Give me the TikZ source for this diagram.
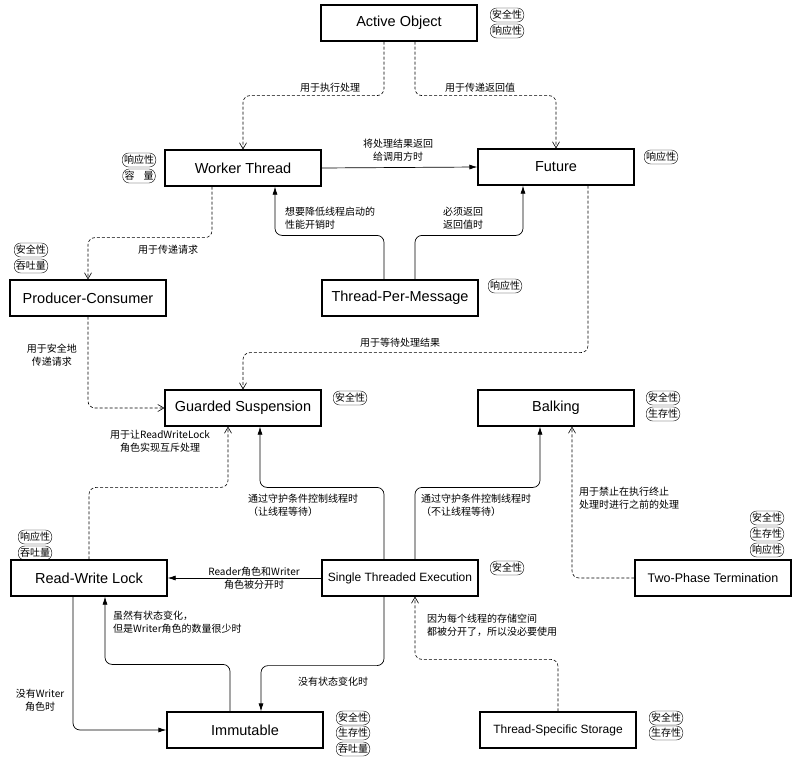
\documentclass[tikz,border=0pt]{standalone}
\usepackage{fontspec}
\setmainfont{Liberation Sans}
\newfontfamily\cjk{Noto Sans CJK SC}
\usetikzlibrary{arrows.meta}
\begin{document}
\begin{tikzpicture}[
    x = 1pt, y = -1pt,
    pattern/.style = {draw, line width = 1.2pt, minimum width = 156pt, minimum height = 36pt,
                      inner sep = 1pt, font = \fontsize{14.5}{16}\selectfont},
    tag/.style     = {draw, rounded corners = 6.5pt, inner sep = 1.8pt, minimum height = 14pt,
                      font = \cjk\fontsize{10}{11}\selectfont},
    lbl/.style     = {align = left, inner sep = 1pt, font = \cjk\fontsize{10}{13}\selectfont},
    uses/.style    = {draw, line width = 0.7pt, rounded corners = 7pt, -{Latex[length = 8pt, width = 5pt]}},
    refs/.style    = {draw, line width = 0.6pt, densely dashed, rounded corners = 7pt,
                      -{Straight Barb[length = 6pt, width = 7pt]}}
  ]
  \useasboundingbox (0,0) rectangle (800,773);
  % patterns
  \node[pattern] (ao)  at (399, 23)  {Active Object};
  \node[pattern] (wt)  at (243, 168) {Worker Thread};
  \node[pattern] (fu)  at (556, 167) {Future};
  \node[pattern] (pc)  at (88, 298)  {Producer-Consumer};
  \node[pattern] (tpm) at (400, 298) {Thread-Per-Message};
  \node[pattern] (gs)  at (243, 408) {Guarded Suspension};
  \node[pattern] (bk)  at (556, 408) {Balking};
  \node[pattern] (rwl) at (89, 578)  {Read-Write Lock};
  \node[pattern, font = \fontsize{12}{13}\selectfont] (ste) at (400, 578) {Single Threaded Execution};
  \node[pattern, font = \fontsize{12.5}{13}\selectfont] (tpt) at (713, 578) {Two-Phase Termination};
  \node[pattern] (im)  at (245, 730) {Immutable};
  \node[pattern, font = \fontsize{12}{13}\selectfont] (tss) at (558, 730) {Thread-Specific Storage};
  % properties
  \node[tag] (ao1)  at (507, 15)  {安全性};
  \node[tag] (ao2)  at (507, 31)  {响应性};
  \node[tag] (wt1)  at (139, 160) {响应性};
  \node[tag] (wt2)  at (139, 176) {容\hspace{9pt}量};
  \node[tag] (fu1)  at (661, 157) {响应性};
  \node[tag] (pc1)  at (31, 250)  {安全性};
  \node[tag] (pc2)  at (31, 266)  {吞吐量};
  \node[tag] (tpm1) at (505, 286) {响应性};
  \node[tag] (gs1)  at (350, 398) {安全性};
  \node[tag] (bk1)  at (663, 398) {安全性};
  \node[tag] (bk2)  at (663, 414) {生存性};
  \node[tag] (rwl1) at (35, 537)  {响应性};
  \node[tag] (rwl2) at (35, 553)  {吞吐量};
  \node[tag] (ste1) at (507, 568) {安全性};
  \node[tag] (tpt1) at (767, 518) {安全性};
  \node[tag] (tpt2) at (767, 534) {生存性};
  \node[tag] (tpt3) at (767, 550) {响应性};
  \node[tag] (im1)  at (353, 718) {安全性};
  \node[tag] (im2)  at (353, 733) {生存性};
  \node[tag] (im3)  at (353, 749) {吞吐量};
  \node[tag] (tss1) at (666, 718) {安全性};
  \node[tag] (tss2) at (666, 733) {生存性};
  % solid: one pattern makes use of another
  \draw[uses] (wt.east) -- (fu.west);
  \draw[uses] ([xshift = -16]tpm.north) -- ++(0, -44) -| ([xshift = 32]wt.south);
  \draw[uses] ([xshift = 15]tpm.north) -- ++(0, -44) -| ([xshift = -33]fu.south);
  \draw[uses] ([xshift = -16]ste.north) -- ++(0, -72) -| ([xshift = 17]gs.south);
  \draw[uses] ([xshift = 15]ste.north) -- ++(0, -72) -| ([xshift = -16]bk.south);
  \draw[uses] (ste.west) -- (rwl.east);
  \draw[uses] ([xshift = -16]ste.south) -- ++(0, 69) -| ([xshift = 16]im.north);
  \draw[uses] ([xshift = -15]im.north) -- ++(0, -47) -| ([xshift = 16]rwl.south);
  \draw[uses] ([xshift = -16]rwl.south) |- (im.west);
  % dashed: related patterns
  \draw[refs] ([xshift = -15]ao.south) -- ++(0, 54) -| (wt.north);
  \draw[refs] ([xshift = 16]ao.south) -- ++(0, 54) -| (fu.north);
  \draw[refs] ([xshift = -31]wt.south) -- ++(0, 51) -| (pc.north);
  \draw[refs] ([xshift = 32]fu.south) -- ++(0, 167) -| (gs.north);
  \draw[refs] (pc.south) |- (gs.west);
  \draw[refs] (rwl.north) -- ++(0, -72) -| ([xshift = -15]gs.south);
  \draw[refs] (tpt.west) -| ([xshift = 16]bk.south);
  \draw[refs] (tss.north) -- ++(0, -52) -| ([xshift = 15]ste.south);
  % labels
  \node[lbl] (l1)  at (330, 88)  {用于执行处理};
  \node[lbl] (l2)  at (480, 88)  {用于传递返回值};
  \node[lbl, align = center] (l3) at (398, 150) {将处理结果返回\\给调用方时};
  \node[lbl, anchor = west] (l4)  at (284, 218) {想要降低线程启动的\\性能开销时};
  \node[lbl, anchor = west] (l5)  at (442, 218) {必须返回\\返回值时};
  \node[lbl] (l6)  at (168, 250) {用于传递请求};
  \node[lbl] (l7)  at (400, 343) {用于等待处理结果};
  \node[lbl, align = center] (l8) at (52, 355) {用于安全地\\传递请求};
  \node[lbl, align = center] (l9) at (160, 441) {用于让ReadWriteLock\\角色实现互斥处理};
  \node[lbl, anchor = west] (l10) at (247, 505) {通过守护条件控制线程时\\（让线程等待）};
  \node[lbl, anchor = west] (l11) at (420, 505) {通过守护条件控制线程时\\（不让线程等待）};
  \node[lbl, anchor = west] (l12) at (578, 498) {用于禁止在执行终止\\处理时进行之前的处理};
  \node[lbl, align = center] (l13) at (254, 578) {Reader角色和Writer\\角色被分开时};
  \node[lbl, anchor = west] (l14) at (112, 622) {虽然有状态变化，\\但是Writer角色的数量很少时};
  \node[lbl] (l15) at (333, 682) {没有状态变化时};
  \node[lbl, align = center] (l16) at (40, 700) {没有Writer\\角色时};
  \node[lbl, anchor = west] (l17) at (426, 625) {因为每个线程的存储空间\\都被分开了，所以没必要使用};
\end{tikzpicture}
\end{document}
